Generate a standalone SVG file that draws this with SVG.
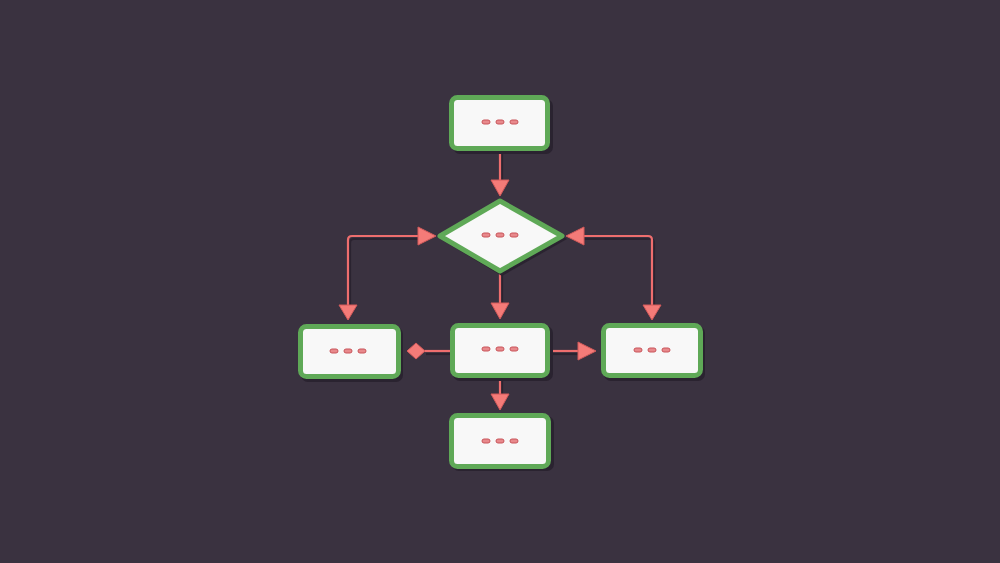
<svg xmlns="http://www.w3.org/2000/svg" width="1000" height="563" viewBox="0 0 1000 563">
  <style>
    .box { fill: #f8f8f8; stroke: #5fa957; stroke-width: 5; }
    .shadow { fill: #2a2330; }
    .dash { fill: #e8898c; stroke: #c9545a; stroke-width: 1; }
    .line { fill: none; stroke: #ee6e6e; stroke-width: 2.2; }
    .head { fill: #f47b78; stroke: #d35a5a; stroke-width: 1; stroke-linejoin: round; }
  </style>
  <defs>
    <g id="dashes">
      <rect class="dash" x="-18" y="-2" width="8" height="4" rx="2"/>
      <rect class="dash" x="-4" y="-2" width="8" height="4" rx="2"/>
      <rect class="dash" x="10" y="-2" width="8" height="4" rx="2"/>
    </g>
  </defs>
  <rect width="1000" height="563" fill="#3a3240"/>

  <g id="connectors">
    <!-- shadows of lines -->
    <g stroke="#2a2330" stroke-width="2.2" fill="none" transform="translate(2,3)">
      <path d="M500 150 V182"/>
      <path d="M420 236 H352 Q348 236 348 240 V306"/>
      <path d="M582 236 H648 Q652 236 652 240 V306"/>
      <path d="M500 272 V305"/>
      <path d="M450 351 H424"/>
      <path d="M550 351 H580"/>
      <path d="M500 378 V395"/>
    </g>
    <path class="line" d="M500 150 V182"/>
    <polygon class="head" points="491,180 509,180 500,196"/>

    <path class="line" d="M420 236 H352 Q348 236 348 240 V306"/>
    <polygon class="head" points="418,227 418,245 436,236"/>
    <polygon class="head" points="339,305 357,305 348,320"/>

    <path class="line" d="M582 236 H648 Q652 236 652 240 V306"/>
    <polygon class="head" points="584,227 584,245 566,236"/>
    <polygon class="head" points="643,305 661,305 652,320"/>

    <path class="line" d="M500 272 V305"/>
    <polygon class="head" points="491,303 509,303 500,319"/>

    <path class="line" d="M450 351 H424"/>
    <polygon class="head" points="425,351 416,343 407,351 416,359"/>

    <path class="line" d="M550 351 H580"/>
    <polygon class="head" points="578,342 578,360 596,351"/>

    <path class="line" d="M500 378 V395"/>
    <polygon class="head" points="491,394 509,394 500,410"/>
  </g>

  <g id="node-top">
    <rect class="shadow" x="453" y="99" width="100" height="55" rx="7"/>
    <rect class="box" x="451.5" y="97.5" width="96" height="51" rx="6"/>
    <use href="#dashes" x="500" y="122"/>
  </g>

  <g id="node-decision">
    <polygon class="shadow" points="502,202 567,239 502,276 440,239"/>
    <polygon class="box" points="500,201 562,236 500,271 440,236" stroke-linejoin="round"/>
    <use href="#dashes" x="500" y="235"/>
  </g>

  <g id="node-left">
    <rect class="shadow" x="301" y="327" width="102" height="55" rx="7"/>
    <rect class="box" x="300.5" y="326.5" width="98" height="50" rx="6"/>
    <use href="#dashes" x="348" y="351"/>
  </g>

  <g id="node-middle">
    <rect class="shadow" x="453" y="326" width="100" height="55" rx="7"/>
    <rect class="box" x="452.5" y="325.5" width="95" height="50" rx="6"/>
    <use href="#dashes" x="500" y="349"/>
  </g>

  <g id="node-right">
    <rect class="shadow" x="604" y="326" width="101" height="55" rx="7"/>
    <rect class="box" x="603.5" y="325.5" width="97" height="50" rx="6"/>
    <use href="#dashes" x="652" y="350"/>
  </g>

  <g id="node-bottom">
    <rect class="shadow" x="452" y="416" width="102" height="55" rx="7"/>
    <rect class="box" x="451.5" y="415.5" width="97" height="51" rx="6"/>
    <use href="#dashes" x="500" y="441"/>
  </g>
</svg>
